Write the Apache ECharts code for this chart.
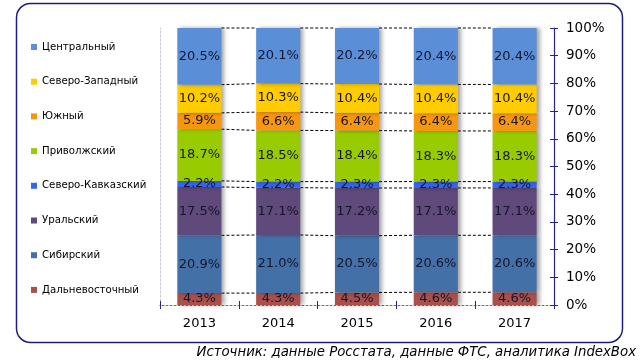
<!DOCTYPE html>
<html><head><meta charset="utf-8">
<script src="https://cdn.jsdelivr.net/npm/echarts@6/dist/echarts.min.js"></script>
<style>html,body{margin:0;padding:0;background:#fff}#c{width:640px;height:361px}</style>
</head><body><div id="c"></div>
<script>
var years = ['2013','2014','2015','2016','2017'];
// stacking order, bottom to top
var regions = ['Дальневосточный','Сибирский','Уральский','Северо-Кавказский','Приволжский','Южный','Северо-Западный','Центральный'];
var vFarEast   = [4.3, 4.3, 4.5, 4.6, 4.6];
var vSiberia   = [20.9, 21.0, 20.5, 20.6, 20.6];
var vUral      = [17.5, 17.1, 17.2, 17.1, 17.1];
var vNCaucasus = [2.2, 2.2, 2.3, 2.3, 2.3];
var vVolga     = [18.7, 18.5, 18.4, 18.3, 18.3];
var vSouth     = [5.9, 6.6, 6.4, 6.4, 6.4];
var vNorthWest = [10.2, 10.3, 10.4, 10.4, 10.4];
var vCentral   = [20.5, 20.1, 20.2, 20.4, 20.4];
var yTicks = [0,10,20,30,40,50,60,70,80,90,100];

var values = [vFarEast, vSiberia, vUral, vNCaucasus, vVolga, vSouth, vNorthWest, vCentral];
var colors = ['#a9504c','#4470a8','#604a7b','#3566f0','#99cc00','#f7960f','#ffcc00','#5a8ed6'];

var sums = years.map(function(_, i){ var s=0; values.forEach(function(a){ s+=a[i]; }); return s; });
var norm = values.map(function(a){ return a.map(function(v,i){ return v/sums[i]*100; }); });
// cumulative boundaries
var cum = years.map(function(_, i){ var c=0, r=[]; norm.forEach(function(a){ c+=a[i]; r.push(c); }); return r; });

var FONT = 'DejaVu Sans';
var BW = 0.56;

var series = regions.map(function(name, k){
  return {
    name: name, type: 'bar', stack: 'all', barWidth: '56%',
    itemStyle: {color: colors[k], shadowColor: 'rgba(0,0,0,0.35)', shadowBlur: 4, shadowOffsetX: 3},
    label: {show: true, position: 'inside', fontFamily: FONT, fontSize: 13, color: '#15152e',
      formatter: function(p){ return p.data.raw.toFixed(1) + '%'; }},
    data: norm[k].map(function(v,i){ return {value: v, raw: values[k][i]}; }),
    z: 3
  };
});

series.push({
  type: 'custom', silent: true, z: 1,
  data: years.slice(0, years.length-1).map(function(_, i){ return [i, 0]; }),
  encode: {x: 0, y: 1},
  renderItem: function(params, api){
    var i = api.value(0);
    var w = api.size([1, 0])[0] * BW / 2;
    var children = [];
    cum[i].forEach(function(c, k){
      var p1 = api.coord([i, c]);
      var p2 = api.coord([i+1, cum[i+1][k]]);
      children.push({type: 'line', shape: {x1: p1[0]+w, y1: p1[1], x2: p2[0]-w, y2: p2[1]},
        style: {stroke: '#000', lineWidth: 1, lineDash: [3, 2]}});
    });
    return {type: 'group', children: children};
  }
});

var chart = echarts.init(document.getElementById('c'));
chart.setOption({
  animation: false,
  backgroundColor: '#fff',
  graphic: [
    {type: 'rect', shape: {x: 16.5, y: 3.5, width: 606, height: 339, r: 14},
     style: {fill: 'none', stroke: '#211c7c', lineWidth: 1.5}, z: 0},
    {type: 'text', right: 4, top: 346, style: {text: 'Источник: данные Росстата, данные ФТС, аналитика IndexBox',
     font: 'italic 13.3px "DejaVu Sans"', fill: '#000'}}
  ],
  legend: {
    orient: 'vertical', left: 31, top: 40, padding: 0,
    data: regions.slice().reverse(),
    itemWidth: 6, itemHeight: 6, itemGap: 20.7, icon: 'rect',
    textStyle: {fontFamily: FONT, fontSize: 10.2, color: '#000', lineHeight: 14},
    selectedMode: false
  },
  grid: {left: 160, right: 86, top: 28, bottom: 56},
  xAxis: [
    {type: 'category', data: years, position: 'bottom',
     axisLine: {lineStyle: {color: '#24248c', width: 1.2}},
     axisTick: {show: true, length: 4, lineStyle: {color: '#24248c'}},
     axisLabel: {fontFamily: FONT, fontSize: 13, color: '#000', margin: 12}},
    {type: 'category', data: years, position: 'bottom', axisLine: {show: false},
     axisTick: {show: true, inside: true, length: 4, lineStyle: {color: '#24248c'}},
     axisLabel: {show: false}},
    {type: 'category', data: years, position: 'top',
     axisLine: {lineStyle: {color: '#c8c8d8', type: [2, 2]}},
     axisTick: {show: false}, axisLabel: {show: false}}
  ],
  yAxis: [
    {type: 'value', min: 0, max: 100, interval: 10, position: 'right',
     axisLine: {show: true, lineStyle: {color: '#24248c', width: 1.2}},
     axisTick: {show: true, length: 4, lineStyle: {color: '#24248c'}},
     splitLine: {show: false},
     axisLabel: {fontFamily: FONT, fontSize: 13.5, color: '#000', margin: 12,
       formatter: function(v){ return yTicks.indexOf(v) >= 0 ? v + '%' : ''; }}},
    {type: 'value', min: 0, max: 100, interval: 10, position: 'right',
     axisLine: {show: false}, axisTick: {show: true, inside: true, length: 4, lineStyle: {color: '#24248c'}},
     splitLine: {show: false}, axisLabel: {show: false}},
    {type: 'value', min: 0, max: 100, interval: 10, position: 'left',
     axisLine: {show: true, lineStyle: {color: '#c8c8d8', type: [2, 2]}},
     axisTick: {show: false}, splitLine: {show: false}, axisLabel: {show: false}}
  ],
  series: series
});
</script></body></html>
